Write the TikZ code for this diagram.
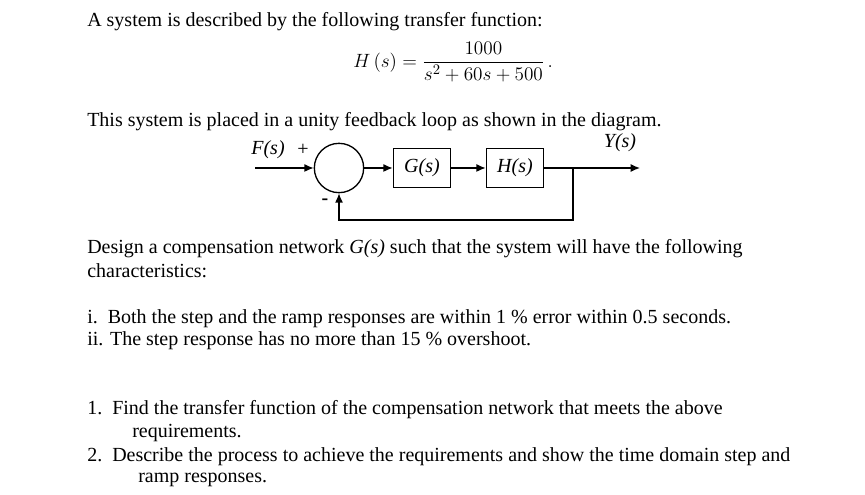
\documentclass[tikz,border=0pt]{standalone}
\usepackage{amsmath}
\usepackage{fontspec}
\setmainfont{Liberation Serif}
\usetikzlibrary{positioning,arrows.meta}
\begin{document}
\begin{tikzpicture}[x=0.75pt,y=-0.75pt,font=\fontsize{15}{17}\selectfont,
    txt/.style={anchor=west,inner sep=0pt},
    blk/.style={draw,line width=1pt,minimum width=43pt,minimum height=29pt,inner sep=0pt},
    sig/.style={line width=1pt,-{Latex[length=7pt,width=6pt]}}]
    \useasboundingbox (0,0) rectangle (865,495);
    % problem text
    \node[txt] (t1) at (87,22) {A system is described by the following transfer function:};
    \node[anchor=west,inner sep=0pt] (eq) at (353,62) {$H\left(s\right)=\dfrac{1000}{s^{2}+60s+500}\,.$};
    \node[txt] (t2) at (87,122) {This system is placed in a unity feedback loop as shown in the diagram.};
    % block diagram
    \node[draw,circle,line width=1pt,minimum size=37pt,inner sep=0pt] (sum) at (339,168) {};
    \node[blk] (g) at (422,168) {\textit{G(s)}};
    \node[blk] (h) at (515,168) {\textit{H(s)}};
    \coordinate (in) at (255,168);
    \coordinate (out) at (640,168);
    \coordinate (br) at (573,168);
    \coordinate (low) at (573,220);
    \coordinate (back) at (339,220);
    \draw[sig] (in) -- (sum);
    \draw[sig] (sum) -- (g);
    \draw[sig] (g) -- (h);
    \draw[sig] (h) -- (out);
    \draw[sig] (br) -- (low) -- (back) -- (sum);
    \node (fs) at (268,150) {\textit{F(s)}};
    \node (plus) at (303,150) {+};
    \node (minus) at (325,202) {\textbf{-}};
    \node (ys) at (620,143) {\textit{Y(s)}};
    % requirements
    \node[txt] (t3) at (87,249) {Design a compensation network \textit{G(s)} such that the system will have the following};
    \node[txt] (t4) at (87,271) {characteristics:};
    \node[txt] (t5) at (87,319) {i.\ \ Both the step and the ramp responses are within 1 \% error within 0.5 seconds.};
    \node[txt] (t6) at (87,341) {ii. The step response has no more than 15 \% overshoot.};
    \node[txt] (t7) at (87,410) {1.\ \ Find the transfer function of the compensation network that meets the above};
    \node[txt] (t8) at (132,433) {requirements.};
    \node[txt] (t9) at (87,457) {2.\ \ Describe the process to achieve the requirements and show the time domain step and};
    \node[txt] (t10) at (138,480) {ramp responses.};
\end{tikzpicture}
\end{document}
